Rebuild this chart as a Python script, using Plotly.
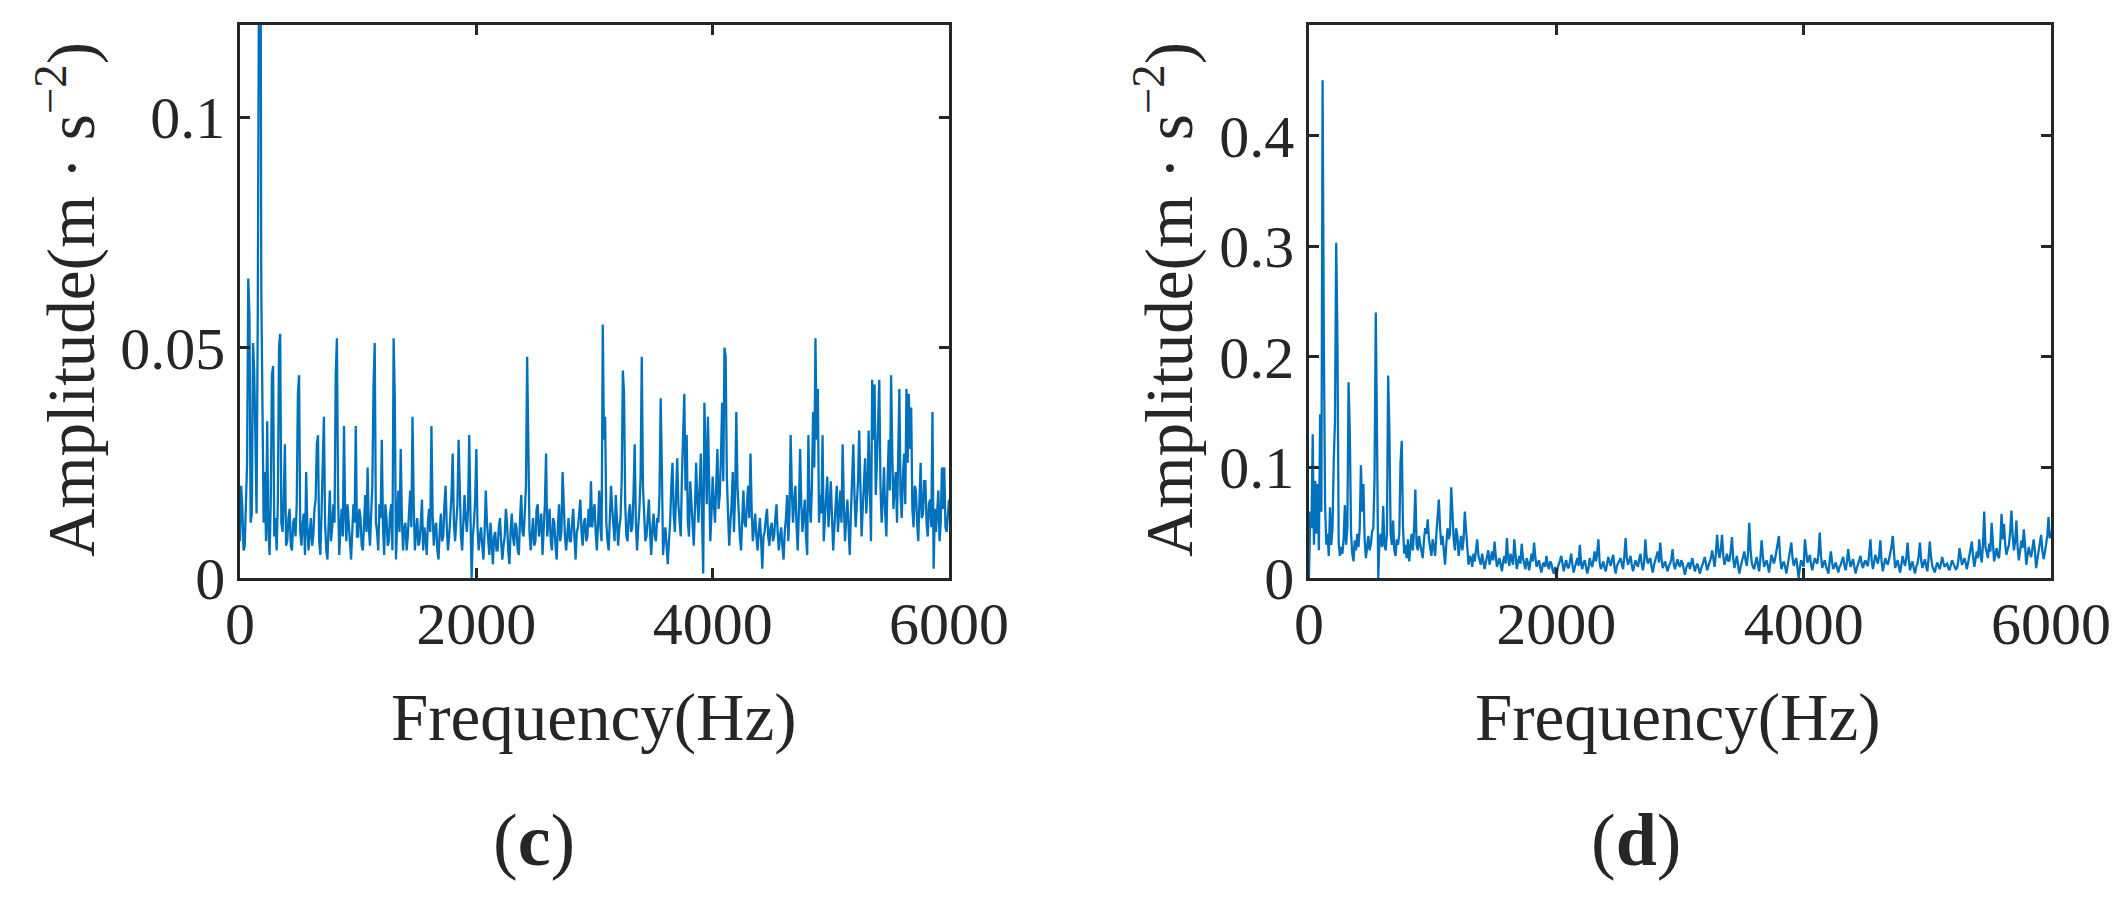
import plotly.graph_objects as go

# ---------------- data ----------------
FREQ_STEP_HZ = 10
freq_hz = [i * FREQ_STEP_HZ for i in range(601)]

# panel (c) amplitude, m·s^-2, one value per 10 Hz (rows of 200 Hz)
amp_c = [
    0.008, 0.020, 0.015, 0.006, 0.007, 0.018, 0.025, 0.065, 0.057, 0.012, 0.014, 0.051, 0.045, 0.031, 0.014, 0.055, 0.116, 0.200, 0.063, 0.036,
    0.012, 0.023, 0.008, 0.034, 0.011, 0.005, 0.016, 0.044, 0.046, 0.009, 0.013, 0.006, 0.016, 0.050, 0.053, 0.012, 0.010, 0.017, 0.029, 0.007,
    0.008, 0.013, 0.015, 0.007, 0.006, 0.012, 0.013, 0.009, 0.016, 0.040, 0.044, 0.010, 0.007, 0.012, 0.014, 0.005, 0.023, 0.011, 0.006, 0.010,
    0.013, 0.007, 0.009, 0.015, 0.017, 0.029, 0.031, 0.008, 0.005, 0.014, 0.024, 0.035, 0.012, 0.006, 0.004, 0.013, 0.019, 0.008, 0.011, 0.016,
    0.012, 0.044, 0.052, 0.018, 0.005, 0.011, 0.015, 0.009, 0.033, 0.014, 0.008, 0.016, 0.012, 0.007, 0.004, 0.010, 0.016, 0.012, 0.033, 0.009,
    0.009, 0.015, 0.013, 0.007, 0.006, 0.012, 0.018, 0.010, 0.024, 0.011, 0.007, 0.014, 0.020, 0.042, 0.051, 0.012, 0.010, 0.006, 0.016, 0.013,
    0.030, 0.011, 0.005, 0.016, 0.013, 0.007, 0.008, 0.014, 0.016, 0.006, 0.052, 0.039, 0.004, 0.012, 0.019, 0.010, 0.028, 0.013, 0.006, 0.011,
    0.012, 0.006, 0.009, 0.014, 0.019, 0.011, 0.035, 0.016, 0.006, 0.010, 0.013, 0.007, 0.008, 0.012, 0.017, 0.006, 0.011, 0.009, 0.005, 0.012,
    0.015, 0.010, 0.033, 0.014, 0.007, 0.011, 0.012, 0.006, 0.004, 0.010, 0.014, 0.008, 0.009, 0.016, 0.020, 0.011, 0.006, 0.009, 0.013, 0.018,
    0.027, 0.012, 0.008, 0.013, 0.016, 0.030, 0.020, 0.009, 0.006, 0.011, 0.018, 0.013, 0.010, 0.015, 0.031, 0.014, 0.000, 0.009, 0.012, 0.017,
    0.028, 0.011, 0.006, 0.009, 0.011, 0.007, 0.004, 0.010, 0.019, 0.012, 0.007, 0.005, 0.012, 0.008, 0.003, 0.009, 0.010, 0.006, 0.006, 0.011,
    0.013, 0.008, 0.004, 0.007, 0.009, 0.015, 0.012, 0.006, 0.003, 0.010, 0.014, 0.009, 0.007, 0.012, 0.011, 0.006, 0.005, 0.013, 0.018, 0.010,
    0.009, 0.014, 0.020, 0.048, 0.033, 0.010, 0.006, 0.011, 0.013, 0.007, 0.008, 0.015, 0.016, 0.009, 0.011, 0.014, 0.005, 0.010, 0.016, 0.027,
    0.009, 0.012, 0.015, 0.008, 0.006, 0.013, 0.012, 0.007, 0.004, 0.011, 0.016, 0.008, 0.010, 0.023, 0.014, 0.009, 0.006, 0.011, 0.013, 0.008,
    0.008, 0.012, 0.015, 0.009, 0.004, 0.010, 0.011, 0.014, 0.017, 0.010, 0.007, 0.012, 0.013, 0.008, 0.009, 0.015, 0.011, 0.021, 0.011, 0.014,
    0.016, 0.010, 0.006, 0.012, 0.019, 0.011, 0.008, 0.055, 0.030, 0.035, 0.012, 0.008, 0.006, 0.013, 0.020, 0.015, 0.010, 0.008, 0.018, 0.012,
    0.007, 0.011, 0.013, 0.021, 0.045, 0.040, 0.016, 0.009, 0.008, 0.014, 0.016, 0.010, 0.011, 0.018, 0.029, 0.012, 0.006, 0.011, 0.015, 0.022,
    0.048, 0.020, 0.013, 0.008, 0.009, 0.014, 0.017, 0.010, 0.005, 0.011, 0.014, 0.009, 0.008, 0.013, 0.012, 0.018, 0.039, 0.024, 0.005, 0.009,
    0.011, 0.007, 0.003, 0.008, 0.012, 0.020, 0.025, 0.014, 0.010, 0.018, 0.026, 0.016, 0.013, 0.009, 0.022, 0.030, 0.040, 0.019, 0.031, 0.012,
    0.009, 0.021, 0.016, 0.011, 0.007, 0.015, 0.025, 0.017, 0.012, 0.020, 0.027, 0.013, 0.001, 0.038, 0.024, 0.016, 0.035, 0.018, 0.008, 0.014,
    0.022, 0.016, 0.012, 0.020, 0.028, 0.015, 0.018, 0.026, 0.038, 0.021, 0.050, 0.048, 0.022, 0.014, 0.007, 0.012, 0.016, 0.023, 0.010, 0.018,
    0.036, 0.020, 0.013, 0.009, 0.006, 0.014, 0.019, 0.012, 0.011, 0.016, 0.020, 0.013, 0.027, 0.015, 0.008, 0.011, 0.014, 0.009, 0.006, 0.010,
    0.013, 0.008, 0.002, 0.009, 0.010, 0.013, 0.015, 0.009, 0.007, 0.011, 0.012, 0.008, 0.009, 0.013, 0.016, 0.010, 0.006, 0.009, 0.011, 0.007,
    0.004, 0.010, 0.013, 0.018, 0.008, 0.014, 0.031, 0.019, 0.012, 0.017, 0.020, 0.011, 0.006, 0.015, 0.028, 0.016, 0.010, 0.014, 0.017, 0.009,
    0.005, 0.031, 0.016, 0.012, 0.020, 0.036, 0.024, 0.052, 0.030, 0.041, 0.012, 0.018, 0.014, 0.031, 0.008, 0.013, 0.018, 0.022, 0.011, 0.016,
    0.021, 0.013, 0.006, 0.011, 0.015, 0.020, 0.010, 0.014, 0.019, 0.012, 0.029, 0.016, 0.008, 0.013, 0.017, 0.011, 0.005, 0.014, 0.022, 0.029,
    0.018, 0.011, 0.016, 0.021, 0.032, 0.017, 0.009, 0.015, 0.020, 0.026, 0.014, 0.019, 0.032, 0.022, 0.008, 0.043, 0.030, 0.042, 0.018, 0.025,
    0.038, 0.043, 0.020, 0.012, 0.017, 0.024, 0.014, 0.009, 0.021, 0.030, 0.019, 0.044, 0.027, 0.015, 0.020, 0.023, 0.012, 0.029, 0.041, 0.018,
    0.013, 0.022, 0.027, 0.016, 0.041, 0.025, 0.040, 0.028, 0.037, 0.015, 0.011, 0.020, 0.019, 0.012, 0.008, 0.017, 0.025, 0.013, 0.014, 0.021,
    0.021, 0.012, 0.009, 0.016, 0.017, 0.011, 0.036, 0.002, 0.015, 0.010, 0.014, 0.019, 0.008, 0.012, 0.024, 0.015, 0.024, 0.011, 0.010, 0.013,
    0.017,
]

# panel (d) amplitude, m·s^-2, one value per 10 Hz (rows of 200 Hz)
amp_d = [
    0.000, 0.060, 0.045, 0.130, 0.030, 0.088, 0.040, 0.085, 0.025, 0.148, 0.060, 0.450, 0.213, 0.066, 0.030, 0.040, 0.020, 0.064, 0.030, 0.045,
    0.105, 0.142, 0.303, 0.215, 0.032, 0.020, 0.028, 0.022, 0.035, 0.066, 0.030, 0.045, 0.177, 0.132, 0.040, 0.022, 0.015, 0.034, 0.025, 0.040,
    0.028, 0.045, 0.102, 0.060, 0.085, 0.035, 0.018, 0.030, 0.038, 0.025, 0.030, 0.042, 0.045, 0.090, 0.240, 0.128, 0.000, 0.035, 0.040, 0.028,
    0.065, 0.030, 0.025, 0.040, 0.183, 0.134, 0.040, 0.030, 0.052, 0.025, 0.020, 0.035, 0.030, 0.040, 0.104, 0.124, 0.045, 0.022, 0.030, 0.018,
    0.035, 0.015, 0.028, 0.040, 0.025, 0.045, 0.080, 0.030, 0.025, 0.038, 0.030, 0.022, 0.018, 0.035, 0.045, 0.040, 0.053, 0.035, 0.028, 0.020,
    0.035, 0.025, 0.020, 0.040, 0.055, 0.071, 0.045, 0.030, 0.038, 0.020, 0.012, 0.030, 0.045, 0.035, 0.040, 0.082, 0.056, 0.035, 0.025, 0.045,
    0.038, 0.020, 0.030, 0.038, 0.025, 0.035, 0.060, 0.045, 0.032, 0.012, 0.020, 0.018, 0.010, 0.022, 0.015, 0.025, 0.035, 0.020, 0.015, 0.012,
    0.022, 0.015, 0.008, 0.014, 0.019, 0.025, 0.012, 0.018, 0.024, 0.016, 0.033, 0.020, 0.010, 0.014, 0.018, 0.012, 0.006, 0.015, 0.020, 0.013,
    0.036, 0.018, 0.011, 0.022, 0.017, 0.012, 0.035, 0.016, 0.008, 0.014, 0.020, 0.013, 0.031, 0.018, 0.012, 0.008, 0.018, 0.014, 0.007, 0.016,
    0.022, 0.015, 0.032, 0.019, 0.010, 0.013, 0.016, 0.009, 0.005, 0.012, 0.014, 0.010, 0.020, 0.012, 0.008, 0.015, 0.013, 0.007, 0.004, 0.010,
    0.000, 0.009, 0.012, 0.016, 0.020, 0.011, 0.006, 0.012, 0.016, 0.010, 0.009, 0.015, 0.022, 0.012, 0.005, 0.010, 0.015, 0.018, 0.011, 0.030,
    0.013, 0.008, 0.014, 0.016, 0.010, 0.004, 0.009, 0.018, 0.013, 0.010, 0.016, 0.024, 0.015, 0.022, 0.035, 0.014, 0.008, 0.012, 0.015, 0.009,
    0.006, 0.013, 0.019, 0.014, 0.011, 0.017, 0.021, 0.010, 0.004, 0.011, 0.013, 0.016, 0.018, 0.012, 0.008, 0.020, 0.036, 0.018, 0.012, 0.016,
    0.020, 0.012, 0.006, 0.011, 0.016, 0.013, 0.010, 0.017, 0.022, 0.013, 0.007, 0.014, 0.035, 0.019, 0.013, 0.016, 0.018, 0.010, 0.005, 0.012,
    0.016, 0.020, 0.024, 0.014, 0.032, 0.018, 0.009, 0.012, 0.015, 0.010, 0.006, 0.011, 0.013, 0.017, 0.026, 0.012, 0.008, 0.013, 0.017, 0.012,
    0.010, 0.016, 0.014, 0.008, 0.003, 0.009, 0.012, 0.014, 0.008, 0.013, 0.018, 0.011, 0.006, 0.010, 0.013, 0.009, 0.004, 0.008, 0.011, 0.015,
    0.019, 0.012, 0.007, 0.011, 0.014, 0.018, 0.025, 0.016, 0.010, 0.022, 0.039, 0.024, 0.018, 0.026, 0.039, 0.020, 0.012, 0.017, 0.022, 0.015,
    0.016, 0.024, 0.037, 0.018, 0.009, 0.015, 0.020, 0.011, 0.004, 0.010, 0.015, 0.019, 0.024, 0.016, 0.011, 0.022, 0.050, 0.026, 0.014, 0.010,
    0.008, 0.014, 0.019, 0.012, 0.006, 0.018, 0.034, 0.020, 0.010, 0.013, 0.016, 0.011, 0.005, 0.013, 0.021, 0.017, 0.013, 0.018, 0.025, 0.030,
    0.038, 0.018, 0.008, 0.012, 0.015, 0.010, 0.004, 0.011, 0.019, 0.024, 0.032, 0.018, 0.011, 0.015, 0.018, 0.009, 0.000, 0.010, 0.016, 0.013,
    0.010, 0.035, 0.020, 0.014, 0.017, 0.021, 0.012, 0.007, 0.013, 0.018, 0.015, 0.013, 0.022, 0.041, 0.020, 0.009, 0.013, 0.016, 0.011, 0.006,
    0.004, 0.015, 0.024, 0.014, 0.008, 0.011, 0.014, 0.009, 0.005, 0.010, 0.012, 0.016, 0.019, 0.011, 0.007, 0.015, 0.026, 0.016, 0.010, 0.014,
    0.017, 0.010, 0.004, 0.009, 0.013, 0.017, 0.020, 0.012, 0.009, 0.014, 0.016, 0.012, 0.011, 0.022, 0.035, 0.016, 0.008, 0.014, 0.021, 0.017,
    0.013, 0.020, 0.034, 0.015, 0.006, 0.012, 0.018, 0.014, 0.012, 0.017, 0.022, 0.028, 0.038, 0.018, 0.009, 0.013, 0.016, 0.010, 0.005, 0.012,
    0.020, 0.015, 0.011, 0.018, 0.032, 0.017, 0.007, 0.012, 0.015, 0.009, 0.004, 0.010, 0.013, 0.020, 0.032, 0.016, 0.009, 0.013, 0.017, 0.011,
    0.006, 0.018, 0.033, 0.019, 0.011, 0.008, 0.005, 0.010, 0.014, 0.011, 0.008, 0.013, 0.019, 0.014, 0.010, 0.012, 0.013, 0.009, 0.007, 0.012,
    0.016, 0.013, 0.011, 0.008, 0.009, 0.015, 0.027, 0.017, 0.012, 0.015, 0.018, 0.013, 0.008, 0.014, 0.021, 0.026, 0.033, 0.019, 0.010, 0.017,
    0.024, 0.018, 0.035, 0.022, 0.014, 0.030, 0.060, 0.028, 0.022, 0.018, 0.031, 0.024, 0.050, 0.030, 0.015, 0.021, 0.027, 0.020, 0.018, 0.032,
    0.058, 0.035, 0.049, 0.030, 0.021, 0.026, 0.030, 0.042, 0.061, 0.038, 0.025, 0.033, 0.052, 0.028, 0.016, 0.024, 0.034, 0.027, 0.044, 0.030,
    0.012, 0.020, 0.028, 0.022, 0.019, 0.027, 0.035, 0.024, 0.009, 0.017, 0.026, 0.031, 0.039, 0.025, 0.017, 0.023, 0.030, 0.038, 0.055, 0.036,
    0.042,
]

x_tick_vals = [0, 2000, 4000, 6000]
x_tick_text = ["0", "2000", "4000", "6000"]
y_tick_vals_c = [0, 0.05, 0.1]
y_tick_text_c = ["0", "0.05", "0.1"]
y_tick_vals_d = [0, 0.1, 0.2, 0.3, 0.4]
y_tick_text_d = ["0", "0.1", "0.2", "0.3", "0.4"]

x_title = "Frequency(Hz)"
y_title = "Amplitude(m \u00b7 s<sup>\u22122</sup>)"
panel_labels = ["(<b>c</b>)", "(<b>d</b>)"]

# ---------------- styling ----------------
W, H = 2122, 900
FONT = "Liberation Serif"
INK = "#262626"
LINE_BLUE = "#0072BD"
TICK_SIZE = 60
TITLE_SIZE = 67
LABEL_SIZE = 74

fig = go.Figure()
fig.add_trace(go.Scatter(x=freq_hz, y=amp_c, mode="lines",
                         line=dict(color=LINE_BLUE, width=2.3),
                         xaxis="x", yaxis="y", showlegend=False))
fig.add_trace(go.Scatter(x=freq_hz, y=amp_d, mode="lines",
                         line=dict(color=LINE_BLUE, width=2.3),
                         xaxis="x2", yaxis="y2", showlegend=False))

axis_common = dict(
    showline=True, linewidth=2.5, linecolor=INK, mirror="ticks",
    ticks="inside", ticklen=10, tickwidth=2.5, tickcolor=INK,
    showgrid=False, zeroline=False, automargin=False,
    tickfont=dict(family=FONT, size=TICK_SIZE, color=INK),
)

def px_x(p):
    return p / W

def px_y(p):
    return 1 - p / H

fig.update_layout(
    width=W, height=H,
    margin=dict(l=0, r=0, t=0, b=0, autoexpand=False),
    paper_bgcolor="white", plot_bgcolor="white",
    font=dict(family=FONT, color=INK),
    xaxis=dict(domain=[px_x(240), px_x(949)], range=[0, 6000], anchor="y",
               tickvals=x_tick_vals, ticktext=x_tick_text, ticklabelstandoff=-9,
               **axis_common),
    yaxis=dict(domain=[px_y(578), px_y(25)], range=[0, 0.12], anchor="x",
               tickvals=y_tick_vals_c, ticktext=y_tick_text_c, **axis_common),
    xaxis2=dict(domain=[px_x(1309), px_x(2051)], range=[0, 6000], anchor="y2",
                tickvals=x_tick_vals, ticktext=x_tick_text, ticklabelstandoff=-9,
                **axis_common),
    yaxis2=dict(domain=[px_y(578), px_y(25)], range=[0, 0.5], anchor="x2",
                tickvals=y_tick_vals_d, ticktext=y_tick_text_d, **axis_common),
)

title_font = dict(family=FONT, size=TITLE_SIZE, color=INK)
# x-axis titles
for cx in [594, 1678]:
    fig.add_annotation(text=x_title, xref="paper", yref="paper",
                       x=px_x(cx), y=px_y(717), xanchor="center", yanchor="middle",
                       showarrow=False, font=title_font)
# y-axis titles (rotated)
for cx in [67, 1165]:
    fig.add_annotation(text=y_title, xref="paper", yref="paper", textangle=-90,
                       x=px_x(cx), y=px_y(300), xanchor="center", yanchor="middle",
                       showarrow=False, font=title_font)
# panel labels
for label, cx in zip(panel_labels, [534, 1636]):
    fig.add_annotation(text=label, xref="paper", yref="paper",
                       x=px_x(cx), y=px_y(840), xanchor="center", yanchor="middle",
                       showarrow=False, font=dict(family=FONT, size=LABEL_SIZE, color=INK))

fig.write_html(
    "out.html",
    config={"displayModeBar": False},
    post_script="document.body.style.margin='0';document.body.style.overflow='hidden';",
)
